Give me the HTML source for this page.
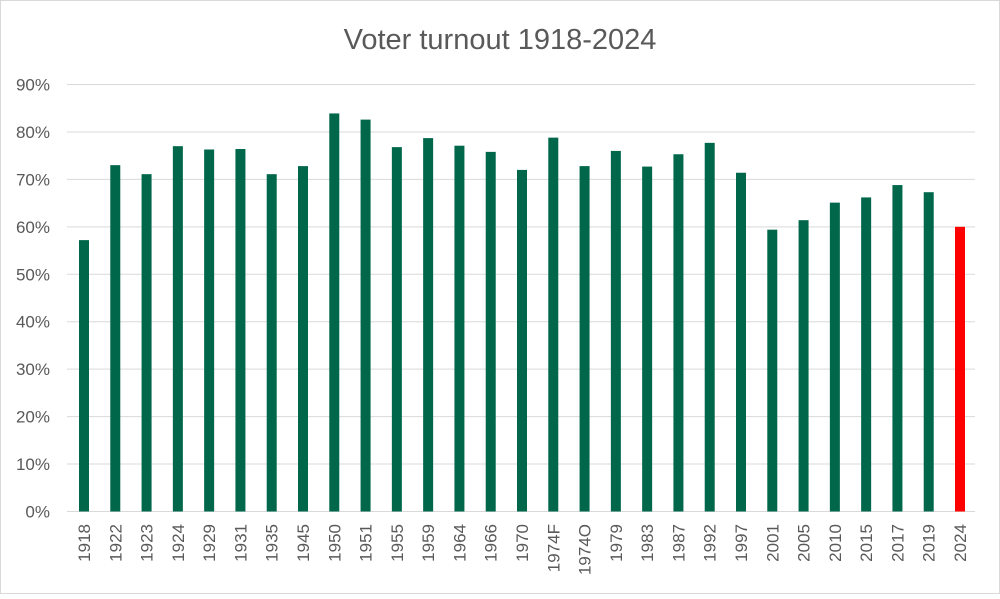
<!DOCTYPE html>
<html><head><meta charset="utf-8"><style>
body{margin:0;background:#fff;}
svg text{font-family:"Liberation Sans",sans-serif;fill:#595959;}
</style></head><body>
<svg id="chart" width="1000" height="594" xmlns="http://www.w3.org/2000/svg">
<rect x="0.5" y="0.5" width="999" height="593" fill="#fff" stroke="#d9d9d9"/>
<text x="500" y="49" text-anchor="middle" font-size="29">Voter turnout 1918-2024</text>
<g id="grid"></g><g id="bars"></g><g id="xl"></g>
</svg>
<script>
const categories=["1918","1922","1923","1924","1929","1931","1935","1945","1950","1951","1955","1959","1964","1966","1970","1974F","1974O","1979","1983","1987","1992","1997","2001","2005","2010","2015","2017","2019","2024"];
const turnout=[57.2,73,71.1,77,76.3,76.4,71.1,72.8,83.9,82.6,76.8,78.7,77.1,75.8,72,78.8,72.8,76,72.7,75.3,77.7,71.4,59.4,61.4,65.1,66.2,68.8,67.3,60];
const yTicks=[0,10,20,30,40,50,60,70,80,90];
const ns="http://www.w3.org/2000/svg";
const y0=511.5,yTop=84.5,ymax=90;
const y=v=>y0-(v/ymax)*(y0-yTop);
const x0=84,step=(960-84)/(categories.length-1);
const x=i=>x0+i*step;
const grid=document.getElementById('grid'),bars=document.getElementById('bars'),xl=document.getElementById('xl');
yTicks.forEach(t=>{
 const l=document.createElementNS(ns,'line');
 l.setAttribute('x1',67);l.setAttribute('x2',975);l.setAttribute('y1',y(t));l.setAttribute('y2',y(t));
 l.setAttribute('stroke','#d9d9d9');l.setAttribute('stroke-width','1');
 
 
 grid.appendChild(l);
 const tx=document.createElementNS(ns,'text');
 tx.setAttribute('x',50);tx.setAttribute('y',y(t)+6);tx.setAttribute('text-anchor','end');tx.setAttribute('font-size','17');
 tx.textContent=t+'%';
 
 
 grid.appendChild(tx);
});
categories.forEach((c,i)=>{
 const r=document.createElementNS(ns,'rect');
 r.setAttribute('x',x(i)-5);r.setAttribute('width',10);
 r.setAttribute('y',y(turnout[i]));r.setAttribute('height',y0-y(turnout[i]));
 r.setAttribute('fill',c==='2024'?'#ff0000':'#00674a');
 
 
 bars.appendChild(r);
 const t=document.createElementNS(ns,'text');
 t.setAttribute('transform','translate('+(x(i)+6)+',524) rotate(-90)');
 t.setAttribute('text-anchor','end');t.setAttribute('font-size','17');
 t.textContent=c;
 
 
 xl.appendChild(t);
});
</script>
</body></html>
